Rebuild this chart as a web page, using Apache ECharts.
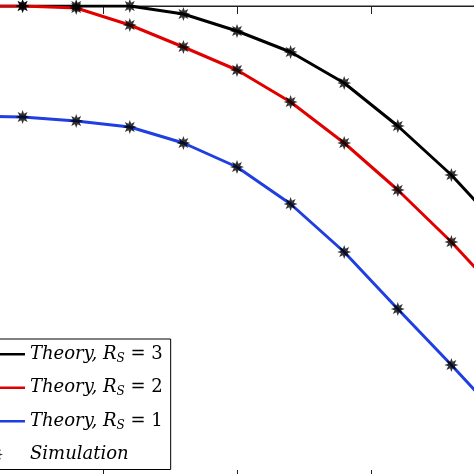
<!DOCTYPE html><html><head><meta charset="utf-8">
<script src="https://cdn.jsdelivr.net/npm/echarts@6/dist/echarts.min.js"></script>
<style>html,body{margin:0;padding:0;background:#fff;width:474px;height:474px;overflow:hidden;position:relative}#c{position:absolute;left:-31px;top:0;width:536px;height:480px}</style></head><body><div id="c"></div>
<script>
const xTheory = [0,2,4,6,8,10,12,14,16,18,20];
const theory3 = [472,472,472,472,464,447,426,395,352,303,245];
const theory2 = [472,472,470,453,431,408,376,335,288,236,178];
const theory1 = [362,361,357,351,335,311,274,226,169,113,55];
const xSim = [2,4,6,8,10,12,14,16,18];

let pts=[];for(let i=0;i<16;i++){const r=i%2?0.5:1,a=i*Math.PI/8-Math.PI/2;pts.push((50+50*r*Math.cos(a)).toFixed(1)+' '+(50+50*r*Math.sin(a)).toFixed(1));}
const star='path://M'+pts.join(' L')+' Z';
const lineIcon='path://M0 0 L0.01 0 Z M0 6 H36 V8.6 H0 Z M36 14 L36.01 14 Z';
const starIcon='path://M0 0 L0.01 0 Z M36 14 L36.01 14 Z '+(()=>{let p=[];for(let i=0;i<16;i++){const r=i%2?3.5:7,a=i*Math.PI/8-Math.PI/2;p.push((7+r*Math.cos(a)).toFixed(2)+' '+(7+r*Math.sin(a)).toFixed(2));}return 'M'+p.join(' L')+' Z';})();

const pair=(xs,ys)=>xs.map((x,i)=>[x,ys[i]]);
const simData=[];
[theory3,theory2,theory1].forEach(arr=>xSim.forEach(x=>simData.push([x,arr[xTheory.indexOf(x)]])));

const font='"DejaVu Serif", "Liberation Serif", serif';
const rich={i:{fontFamily:font,fontStyle:'italic',fontSize:18,color:'#000'},s:{fontFamily:font,fontStyle:'italic',fontSize:12,color:'#000',verticalAlign:'bottom',padding:[9,0,0,0]},n:{fontFamily:font,fontSize:18,color:'#000'}};
const names={'t3':'{i|Theory, R}{s|S}{n| = 3}','t2':'{i|Theory, R}{s|S}{n| = 2}','t1':'{i|Theory, R}{s|S}{n| = 1}','sim':'{i|Simulation}'};

const chart=echarts.init(document.getElementById('c'));
chart.setOption({
  animation:false,
  grid:{left:0,right:0,top:6,bottom:2,show:true,borderColor:'#222',borderWidth:1},
  xAxis:[{type:'value',min:0,max:20,interval:5,position:'bottom',axisLine:{lineStyle:{color:'#222'}},axisTick:{inside:true,length:8,lineStyle:{color:'#222'}},axisLabel:{show:false},splitLine:{show:false}},
         {type:'value',min:0,max:20,interval:5,position:'top',axisLine:{lineStyle:{color:'#222'}},axisTick:{inside:true,length:8,lineStyle:{color:'#222'}},axisLabel:{show:false},splitLine:{show:false}}],
  yAxis:{type:'value',min:0,max:472,axisLabel:{show:false},splitLine:{show:false},axisTick:{show:false},axisLine:{show:false}},
  legend:{orient:'vertical',left:16,top:339,itemWidth:36,itemHeight:14,itemGap:14,symbolKeepAspect:false,padding:[6,8,6,4],backgroundColor:'#fff',borderColor:'#000',borderWidth:1,
    formatter:n=>names[n],textStyle:{rich:rich},
    data:[{name:'t3',icon:lineIcon,itemStyle:{color:'#000'}},{name:'t2',icon:lineIcon},{name:'t1',icon:lineIcon},{name:'sim',icon:starIcon}]},
  series:[
    {name:'t3',type:'line',data:pair(xTheory,theory3),symbol:'none',lineStyle:{color:'#000',width:3},itemStyle:{color:'#000'}},
    {name:'t2',type:'line',data:pair(xTheory,theory2),symbol:'none',lineStyle:{color:'#e00000',width:3},itemStyle:{color:'#e00000'}},
    {name:'t1',type:'line',data:pair(xTheory,theory1),symbol:'none',lineStyle:{color:'#1f3fe0',width:3},itemStyle:{color:'#1f3fe0'}},
    {name:'sim',type:'scatter',data:simData,symbol:star,symbolSize:14,itemStyle:{color:'#000'},z:5}
  ]
});
</script></body></html>
